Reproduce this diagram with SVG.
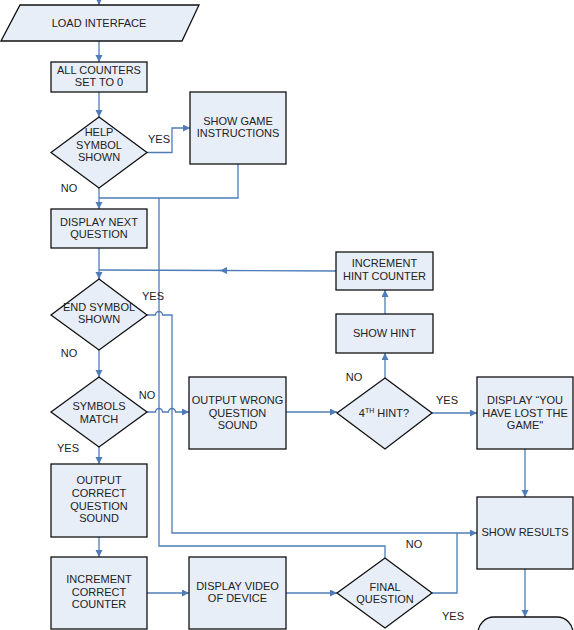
<svg xmlns="http://www.w3.org/2000/svg" width="574" height="630" viewBox="0 0 574 630">
<defs>
<marker id="ah" markerWidth="8" markerHeight="8" refX="7" refY="3.5" orient="auto" markerUnits="userSpaceOnUse">
<path d="M0,0 L7,3.5 L0,7 z" fill="#4F7CB8"/>
</marker>
<style>
.s{fill:#E8EEF7;stroke:#111;stroke-width:1.3}
.c{fill:none;stroke:#4F7CB8;stroke-width:1.3}
.a{marker-end:url(#ah)}
text{font-family:"Liberation Sans",Arial,sans-serif;font-size:11px;fill:#222;text-anchor:middle}
</style>
</defs>
<rect width="574" height="630" fill="#fff"/>
<g id="connectors">
<path class="c a" d="M99,-2 V5"/>
<path class="c a" d="M99,41 V62"/>
<path class="c a" d="M99,92 V117"/>
<path class="c a" d="M147,152.5 H172 V128 H190"/>
<path class="c" d="M238,164 V198 H99"/>
<path class="c a" d="M99,188 V209"/>
<path class="c a" d="M99,248 V279"/>
<path class="c a" d="M336,271 L220,270.5"/>
<path class="c" d="M221,270.5 L99,270"/>
<path class="c a" d="M147,315 H155.5 a3.5,3.5 0 0 1 7,0 H172 V533 H477"/>
<path class="c a" d="M99,350 V377"/>
<path class="c a" d="M147,412 H155.5 a3.5,3.5 0 0 1 7,0 H168.5 a3.5,3.5 0 0 1 7,0 H189"/>
<path class="c a" d="M286,412 H337"/>
<path class="c a" d="M385,378 V353"/>
<path class="c a" d="M385,314 V290"/>
<path class="c a" d="M432,413 H477"/>
<path class="c a" d="M525,449 V497"/>
<path class="c a" d="M525,569 V617"/>
<path class="c a" d="M99,447 V464"/>
<path class="c a" d="M99,537 V557"/>
<path class="c a" d="M147,593 H189"/>
<path class="c a" d="M286,593 H337"/>
<path class="c" d="M432,593 H457 V533"/>
<path class="c" d="M385,558 V546 H159 V198"/>
</g>
<g id="load">
<path class="s" d="M20,5 H199 L182,41 H1 z"/>
<text x="99" y="26.5">LOAD INTERFACE</text>
</g>
<g id="counters">
<rect class="s" x="51" y="62" width="96" height="30"/>
<text x="99" y="74">ALL COUNTERS</text>
<text x="99" y="86">SET TO 0</text>
</g>
<g id="help">
<path class="s" d="M99,117 L147,152.5 L99,188 L51,152.5 z"/>
<text x="99" y="136">HELP</text>
<text x="99" y="149">SYMBOL</text>
<text x="99" y="161">SHOWN</text>
</g>
<g id="instructions">
<rect class="s" x="190" y="92" width="96" height="72"/>
<text x="238" y="124.5">SHOW GAME</text>
<text x="238" y="137">INSTRUCTIONS</text>
</g>
<g id="nextq">
<rect class="s" x="51" y="209" width="96" height="39"/>
<text x="99" y="225.5">DISPLAY NEXT</text>
<text x="99" y="238">QUESTION</text>
</g>
<g id="endsym">
<path class="s" d="M99,279 L147,315 L99,350 L51,315 z"/>
<text x="99" y="310.5">END SYMBOL</text>
<text x="99" y="323">SHOWN</text>
</g>
<g id="match">
<path class="s" d="M99,377 L147,412 L99,447 L51,412 z"/>
<text x="99" y="410">SYMBOLS</text>
<text x="99" y="423">MATCH</text>
</g>
<g id="wrong">
<rect class="s" x="189" y="377" width="97" height="72"/>
<text x="237.5" y="404">OUTPUT WRONG</text>
<text x="237.5" y="416.5">QUESTION</text>
<text x="237.5" y="429">SOUND</text>
</g>
<g id="hint4">
<path class="s" d="M385,378 L432,413 L385,449 L337,413 z"/>
<text x="384" y="417">4<tspan font-size="7" dy="-4">TH</tspan><tspan dy="4"> HINT?</tspan></text>
</g>
<g id="showhint">
<rect class="s" x="336" y="314" width="97" height="39"/>
<text x="384.5" y="336.5">SHOW HINT</text>
</g>
<g id="inchint">
<rect class="s" x="336" y="252" width="97" height="38"/>
<text x="384.5" y="267">INCREMENT</text>
<text x="384.5" y="279.5">HINT COUNTER</text>
</g>
<g id="lost">
<rect class="s" x="477" y="377" width="96" height="72"/>
<text x="525" y="404">DISPLAY “YOU</text>
<text x="525" y="416.5">HAVE LOST THE</text>
<text x="525" y="429">GAME"</text>
</g>
<g id="results">
<rect class="s" x="477" y="497" width="96" height="72"/>
<text x="525" y="536">SHOW RESULTS</text>
</g>
<g id="terminal">
<rect class="s" x="478" y="617" width="95" height="40" rx="16"/>
</g>
<g id="correct">
<rect class="s" x="51" y="464" width="96" height="73"/>
<text x="99" y="484">OUTPUT</text>
<text x="99" y="496.5">CORRECT</text>
<text x="99" y="509.5">QUESTION</text>
<text x="99" y="522">SOUND</text>
</g>
<g id="inccorrect">
<rect class="s" x="51" y="557" width="96" height="72"/>
<text x="99" y="583">INCREMENT</text>
<text x="99" y="596">CORRECT</text>
<text x="99" y="608">COUNTER</text>
</g>
<g id="video">
<rect class="s" x="189" y="557" width="97" height="72"/>
<text x="237.5" y="590">DISPLAY VIDEO</text>
<text x="237.5" y="602">OF DEVICE</text>
</g>
<g id="final">
<path class="s" d="M385,558 L432,593 L385,628 L337,593 z"/>
<text x="385" y="590.5">FINAL</text>
<text x="385" y="603">QUESTION</text>
</g>
<g id="labels">
<text x="159" y="143">YES</text>
<text x="69" y="191.5">NO</text>
<text x="153" y="300">YES</text>
<text x="69" y="356.5">NO</text>
<text x="147" y="399">NO</text>
<text x="68" y="452">YES</text>
<text x="354" y="380.5">NO</text>
<text x="447" y="404">YES</text>
<text x="414" y="548">NO</text>
<text x="453" y="620">YES</text>
</g>
</svg>
